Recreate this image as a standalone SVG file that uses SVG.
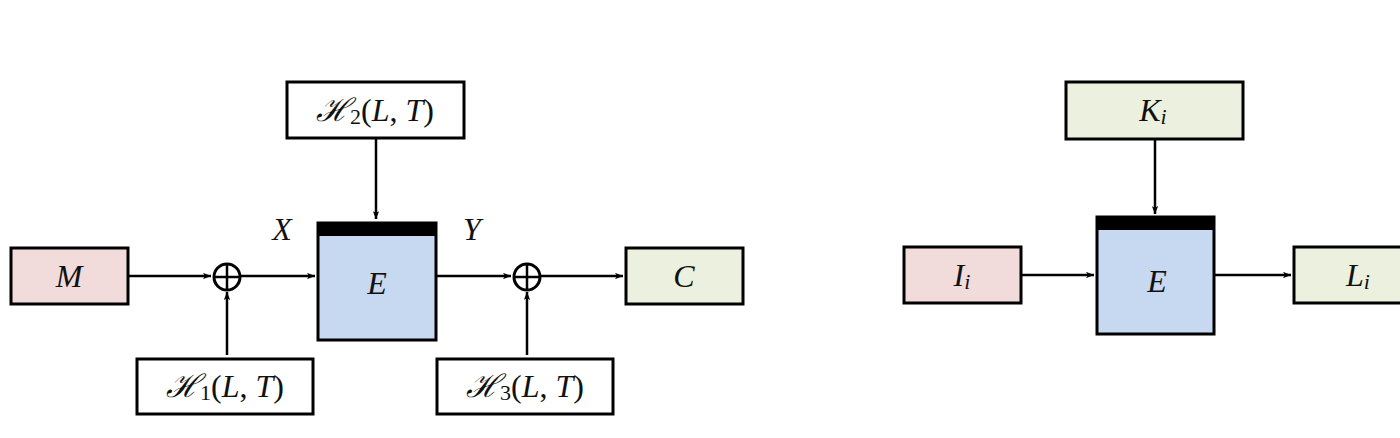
<svg xmlns="http://www.w3.org/2000/svg" width="1400" height="438" viewBox="0 0 1400 438">
<style>
.b{stroke:#000;stroke-width:3;}
.l{stroke:#000;stroke-width:2.5;fill:none;}
text{font-family:"Liberation Serif",serif;font-style:italic;font-size:32px;text-anchor:middle;dominant-baseline:central;fill:#111;}
.n{font-style:normal;}
</style>
<defs><marker id="a" viewBox="0 0 10 8" refX="10" refY="4" markerWidth="8" markerHeight="6.4" markerUnits="userSpaceOnUse" orient="auto"><path d="M0,0L10,4L0,8L2.5,4z" fill="#000"/></marker></defs>
<rect width="1400" height="438" fill="#fff"/>
<g id="conn">
<path class="l" d="M128,276H211" marker-end="url(#a)"/>
<path class="l" d="M241,276H315" marker-end="url(#a)"/>
<path class="l" d="M227,355V292" marker-end="url(#a)"/>
<path class="l" d="M376,138V219" marker-end="url(#a)"/>
<path class="l" d="M436,276H511" marker-end="url(#a)"/>
<path class="l" d="M541,276H623" marker-end="url(#a)"/>
<path class="l" d="M527,355V292" marker-end="url(#a)"/>
<path class="l" d="M1021,275H1094" marker-end="url(#a)"/>
<path class="l" d="M1155,139V214" marker-end="url(#a)"/>
<path class="l" d="M1214,275H1291" marker-end="url(#a)"/>
</g>
<g id="M"><rect class="b" x="11" y="248" width="117" height="56" fill="#f2dcdb"/><text x="69" y="276">M</text></g>
<g id="xor1"><circle class="b" cx="227" cy="277" r="13" fill="#fff"/><path class="l" d="M214,277H240M227,264V290"/></g>
<g id="E"><rect class="b" x="318" y="223" width="118" height="117" fill="#c6d9f1"/><rect x="318" y="223" width="118" height="13" fill="#000"/><text x="377" y="283">E</text></g>
<g id="X"><text x="282" y="229">X</text></g>
<g id="Y"><text x="472" y="229">Y</text></g>
<g id="xor2"><circle class="b" cx="527" cy="277" r="13" fill="#fff"/><path class="l" d="M514,277H540M527,264V290"/></g>
<g id="C"><rect class="b" x="626" y="248" width="117" height="56" fill="#ebf1de"/><text x="684" y="276">C</text></g>
<g id="H2"><rect class="b" x="287" y="82" width="177" height="56" fill="#fff"/><text x="375" y="110">ℋ<tspan class="n" font-size="22" dy="6">2</tspan><tspan class="n" dy="-6">(</tspan>L<tspan class="n">, </tspan>T<tspan class="n">)</tspan></text></g>
<g id="H1"><rect class="b" x="137" y="359" width="176" height="55" fill="#fff"/><text x="225" y="386">ℋ<tspan class="n" font-size="22" dy="6">1</tspan><tspan class="n" dy="-6">(</tspan>L<tspan class="n">, </tspan>T<tspan class="n">)</tspan></text></g>
<g id="H3"><rect class="b" x="437" y="359" width="176" height="55" fill="#fff"/><text x="525" y="386">ℋ<tspan class="n" font-size="22" dy="6">3</tspan><tspan class="n" dy="-6">(</tspan>L<tspan class="n">, </tspan>T<tspan class="n">)</tspan></text></g>
<g id="Ii"><rect class="b" x="904" y="247" width="117" height="56" fill="#f2dcdb"/><text x="962" y="275">I<tspan font-size="22" dy="6">i</tspan></text></g>
<g id="E2"><rect class="b" x="1097" y="217" width="117" height="117" fill="#c6d9f1"/><rect x="1097" y="217" width="117" height="13" fill="#000"/><text x="1157" y="281">E</text></g>
<g id="Ki"><rect class="b" x="1066" y="82" width="177" height="57" fill="#ebf1de"/><text x="1153" y="110">K<tspan font-size="22" dy="6">i</tspan></text></g>
<g id="Li"><rect class="b" x="1294" y="247" width="120" height="56" fill="#ebf1de"/><text x="1358" y="275">L<tspan font-size="22" dy="6">i</tspan></text></g>
</svg>
